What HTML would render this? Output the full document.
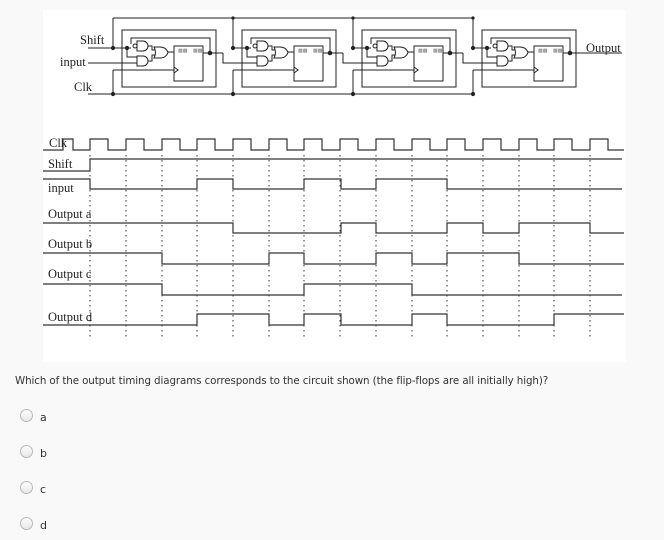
<!DOCTYPE html>
<html><head><meta charset="utf-8"><style>
html,body{margin:0;padding:0;background:#f9f9f9;width:664px;height:540px;overflow:hidden;}
svg{position:absolute;left:0;top:0;}
.q{position:absolute;left:15px;top:375px;font:10.3px "DejaVu Sans",sans-serif;color:#333;white-space:nowrap;letter-spacing:-0.1px}
.r{position:absolute;left:20px;width:11px;height:11px;border-radius:50%;border:1px solid #b8b8b8;background:linear-gradient(#fff,#e6e6e6);}
.l{position:absolute;left:40px;font:11px "DejaVu Sans",sans-serif;color:#333}
</style></head><body>
<svg width="664" height="540" viewBox="0 0 664 540" font-family="Liberation Serif, serif" font-size="12.5">
<rect x="43" y="10" width="583" height="352" fill="#fff"/>
<defs>
<g id="st" fill="none" stroke="#222" stroke-width="1">
<rect x="122" y="30" width="94" height="57"/>
<path d="M131 44V38H210V53"/>
<path d="M113 48H131M127 48V57H137M137 63H122"/>
<path d="M137 41h6a5 5 0 0 1 0 10h-6z"/>
<circle cx="135" cy="46" r="2" fill="#fff"/>
<path d="M137 56h6a5 5 0 0 1 0 10h-6z"/>
<path d="M148 46H152V50H155M148 61H152V55H155"/>
<path d="M154 47h6q6 0 8 5.5q-2 5.5 -8 5.5h-6q3 -5.5 0 -11z"/>
<path d="M168 52H174"/>
<rect x="174" y="46" width="29" height="35"/>
<path d="M174 67l4 3l-4 3"/>
<path d="M113 70H174"/>
<path d="M203 53H223"/>
<circle cx="127" cy="48" r="1.6" fill="#222"/>
<circle cx="210" cy="53" r="1.8" fill="#222"/>
<circle cx="113" cy="48" r="1.6" fill="#222"/>
<circle cx="113" cy="94" r="1.6" fill="#222"/>
<path d="M113 48V18M113 70V94" />
<text x="178" y="52" font-size="5" fill="#777" stroke="none">▩▩</text>
<text x="193" y="52" font-size="5" fill="#777" stroke="none">▩▩</text>
</g>
</defs>
<use href="#st"/>
<use href="#st" x="120"/>
<use href="#st" x="240"/>
<use href="#st" x="360"/>
<g fill="none" stroke="#222" stroke-width="1">
<path d="M113 18H473"/>
<path d="M223 53V63H242M343 53V63H362M463 53V63H482"/>
<path d="M88 48H113M88 63H122M88 94H473"/>
<path d="M583 53H622"/>
</g>
<g fill="#222" stroke="none">
<circle cx="233" cy="18" r="1.6"/><circle cx="353" cy="18" r="1.6"/><circle cx="473" cy="18" r="1.6"/>
</g>
<text x="80" y="44" fill="#222">Shift</text>
<text x="60" y="66" fill="#222">input</text>
<text x="74" y="91" fill="#222">Clk</text>
<text x="586" y="52" fill="#222">Output</text>

<g stroke="#333" stroke-width="1" stroke-dasharray="1.5,3.5" fill="none">
<path d="M90 155V340M126 155V340M162 155V340M197 155V340M233 155V340M269 155V340M304 155V340M340 155V340M376 155V340M412 155V340M447 155V340M483 155V340M519 155V340M554 155V340M590 155V340"/>
</g>
<g fill="none" stroke="#333" stroke-width="1.2">
<path d="M43 150H63V139H73V150H90V139H108V150H126V139H144V150H162V139H180V150H197V139H215V150H233V139H251V150H269V139H287V150H304V139H322V150H340V139H358V150H376V139H394V150H412V139H430V150H447V139H465V150H483V139H501V150H519V139H537V150H554V139H572V150H590V139H608V150H624"/>
<path d="M43 171H90V159H622"/>
<path d="M43 179H90V189H197V179H233V189H304V179H341V189H376V179H447V189H622"/>
<path d="M43 223H233V233H341V223H376V233H447V223H483V233H519V223H590V233H624"/>
<path d="M43 253H162V264H269V253H304V264H376V253H412V264H447V253H519V264H624"/>
<path d="M43 284H162V295H304V284H412V295H622"/>
<path d="M43 325H197V314H269V325H304V314H341V325H412V314H447V325H554V314H624"/>
</g>
<g fill="#222">
<text x="49" y="147">Clk</text>
<text x="48" y="168">Shift</text>
<text x="48" y="192">input</text>
<text x="48" y="218">Output a</text>
<text x="48" y="248">Output b</text>
<text x="48" y="278">Output c</text>
<text x="48" y="321">Output d</text>
</g>
</svg>
<div class="q">Which of the output timing diagrams corresponds to the circuit shown (the flip-flops are all initially high)?</div>
<div class="r" style="top:409px"></div><div class="l" style="top:411px">a</div>
<div class="r" style="top:445px"></div><div class="l" style="top:447px">b</div>
<div class="r" style="top:481px"></div><div class="l" style="top:483px">c</div>
<div class="r" style="top:517px"></div><div class="l" style="top:519px">d</div>
</body></html>
